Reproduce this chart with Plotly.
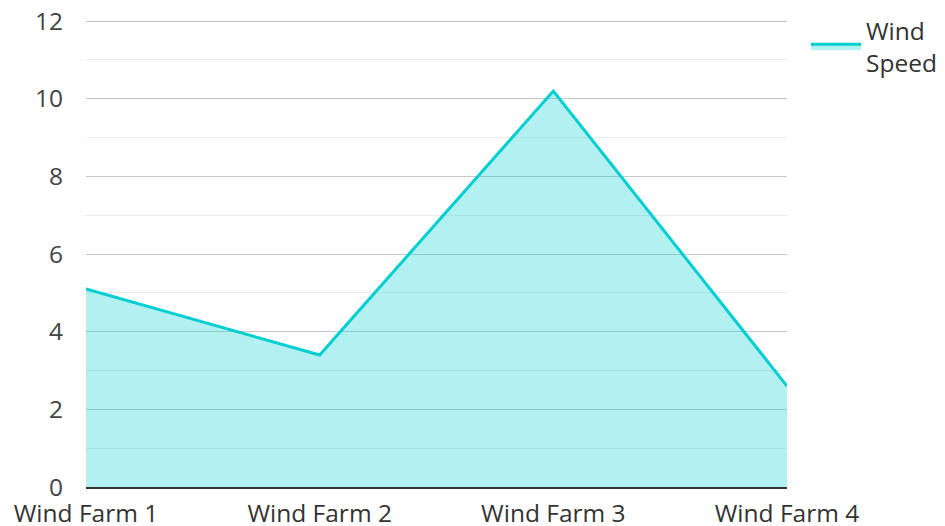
import plotly.graph_objects as go

# Average wind speed per site
farms = ["Wind Farm 1", "Wind Farm 2", "Wind Farm 3", "Wind Farm 4"]
wind_speed = [5.1, 3.4, 10.2, 2.6]
series_name = "Wind<br>Speed"

line_color = "#00CED1"
fill_color = "rgba(0, 206, 209, 0.3)"
font_family = "Open Sans, sans-serif"
font_size = 24.5

fig = go.Figure()
fig.add_trace(go.Scatter(
    x=farms,
    y=wind_speed,
    mode="lines",
    name=series_name,
    line=dict(color=line_color, width=3),
    fill="tozeroy",
    fillcolor=fill_color,
))

fig.update_layout(
    width=945,
    height=526,
    margin=dict(l=86, r=158, t=20, b=39),
    paper_bgcolor="white",
    plot_bgcolor="white",
    font=dict(family=font_family, size=font_size, color="#444"),
    showlegend=True,
    legend=dict(
        xref="container", yref="container",
        x=806 / 945, y=1 - 8 / 526, xanchor="left", yanchor="top",
        itemwidth=50,
        font=dict(size=font_size, color="#333"),
        bgcolor="rgba(0,0,0,0)",
    ),
    xaxis=dict(
        type="category",
        range=[0, 3],
        automargin=False,
        showgrid=False,
        showline=True,
        linecolor="#333",
        linewidth=2,
        ticks="",
        ticklabelstandoff=4,
        tickfont=dict(size=font_size, color="#333"),
        zeroline=False,
    ),
    yaxis=dict(
        range=[0, 12.03],
        automargin=False,
        tickvals=[0, 2, 4, 6, 8, 10, 12],
        showgrid=True,
        gridcolor="#c8c8c8",
        gridwidth=1,
        zeroline=False,
        ticks="",
        ticklabelstandoff=22,
        tickfont=dict(size=font_size, color="#444"),
        minor=dict(tickvals=[1, 3, 5, 7, 9, 11], showgrid=True,
                   gridcolor="#ebebeb", gridwidth=1),
    ),
)

fig.write_html("out.html")
